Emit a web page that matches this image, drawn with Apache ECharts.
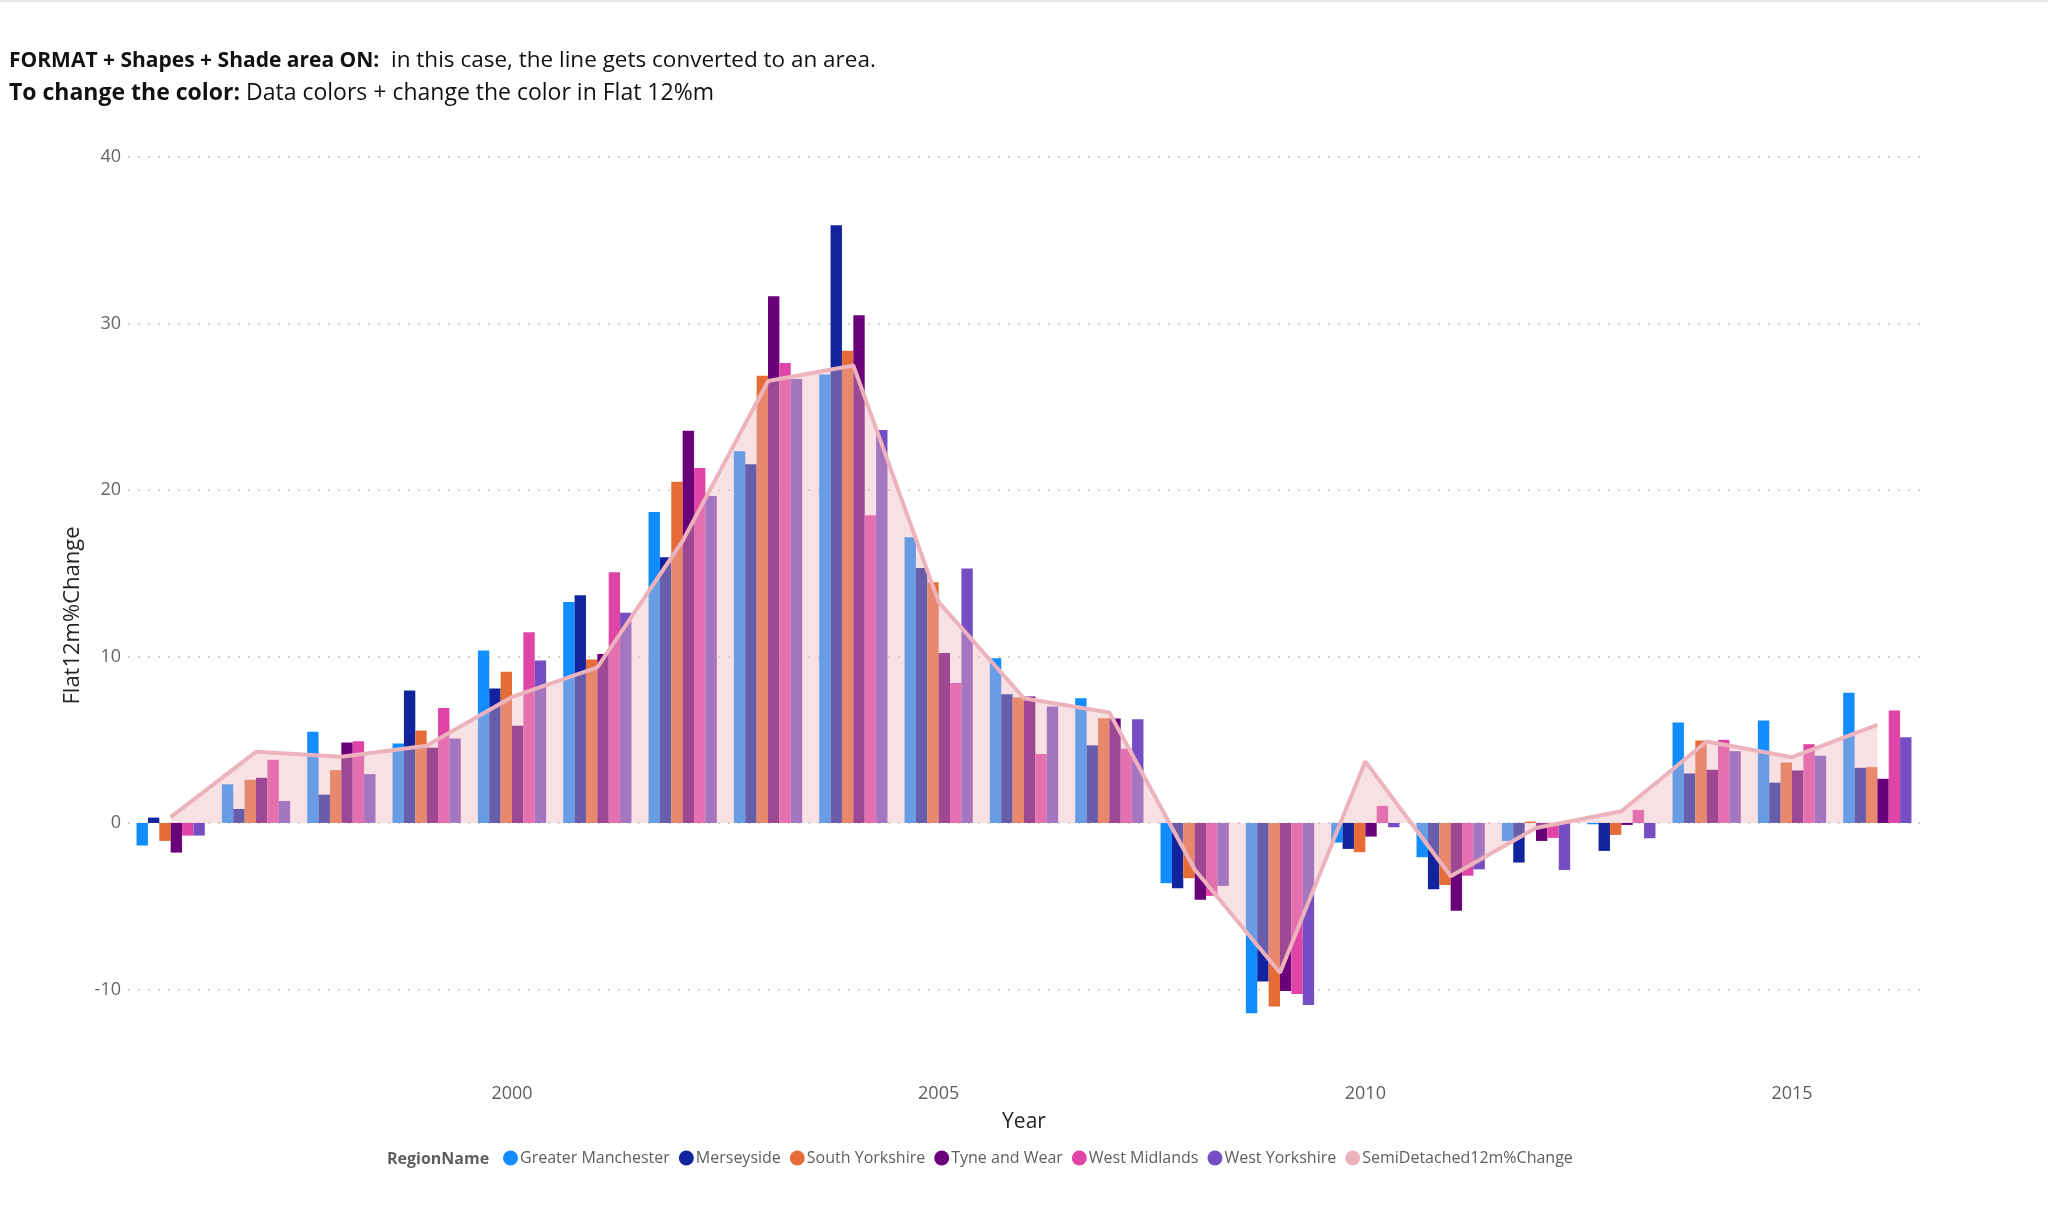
<!DOCTYPE html>
<html>
<head>
<meta charset="utf-8">
<script src="https://cdn.jsdelivr.net/npm/echarts@6/dist/echarts.min.js"></script>
<style>
  html, body { margin: 0; padding: 0; background: #fff; }
  #main { width: 2048px; height: 1215px; }
</style>
</head>
<body>
<div id="main"></div>
<script>
var years = ['1996','1997','1998','1999','2000','2001','2002','2003','2004','2005','2006',
             '2007','2008','2009','2010','2011','2012','2013','2014','2015','2016'];

var greaterManchester = [-1.36, 2.32, 5.47, 4.77, 10.36, 13.27, 18.68, 22.33, 26.94, 17.16, 9.89, 7.49, -3.62, -11.43, -1.18, -2.06, -1.08, -0.08, 6.03, 6.15, 7.82];
var merseyside = [0.32, 0.84, 1.70, 7.96, 8.08, 13.67, 15.96, 21.54, 35.9, 15.32, 7.73, 4.66, -3.92, -9.53, -1.56, -3.99, -2.38, -1.68, 2.97, 2.42, 3.31];
var southYorkshire = [-1.08, 2.59, 3.17, 5.55, 9.08, 9.82, 20.49, 26.86, 28.36, 14.46, 7.53, 6.29, -3.32, -11.03, -1.76, -3.73, 0.08, -0.72, 4.95, 3.63, 3.35];
var tyneAndWear = [-1.78, 2.71, 4.83, 4.51, 5.83, 10.14, 23.55, 31.64, 30.49, 10.2, 7.6, 6.27, -4.62, -10.09, -0.82, -5.27, -1.08, -0.12, 3.19, 3.15, 2.65];
var westMidlands = [-0.76, 3.79, 4.91, 6.91, 11.46, 15.05, 21.32, 27.62, 18.48, 8.41, 4.14, 4.46, -4.38, -10.27, 1.02, -3.17, -0.9, 0.78, 4.99, 4.73, 6.75];
var westYorkshire = [-0.76, 1.32, 2.93, 5.07, 9.76, 12.63, 19.63, 26.67, 23.6, 15.29, 6.99, 6.23, -3.78, -10.93, -0.26, -2.79, -2.83, -0.92, 4.31, 4.03, 5.15];
var semiDetached = [0.35, 4.27, 3.97, 4.63, 7.57, 9.34, 16.94, 26.54, 27.48, 13.26, 7.49, 6.63, -2.8, -9.0, 3.7, -3.2, -0.3, 0.7, 4.89, 3.95, 5.89];

var font = "'Open Sans', 'Noto Sans', sans-serif";

function barSeries(name, color, data) {
    return {
        name: name,
        type: 'bar',
        data: data,
        barGap: 0,
        barCategoryGap: '20%',
        itemStyle: { color: color }
    };
}

var myChart = echarts.init(document.getElementById('main'));

var option = {
    backgroundColor: '#ffffff',
    textStyle: { fontFamily: font },
    graphic: [
        { type: 'rect', left: 0, top: 0, shape: { width: 2048, height: 2 }, style: { fill: '#e6e6e6' } }
    ],
    title: [
        {
            left: 9,
            top: 45,
            padding: 0,
            text: '{b1|FORMAT + Shapes + Shade area ON:}{n1|  in this case, the line gets converted to an area.}\n{b2|To change the color:}{n2| Data colors + change the color in Flat 12%m}',
            textStyle: {
                fontFamily: font,
                fontSize: 22,
                fontWeight: 'normal',
                color: '#111111',
                lineHeight: 32,
                rich: {
                    b1: { fontFamily: font, fontSize: 21, fontWeight: 'bold', color: '#111111', lineHeight: 32 },
                    n1: { fontFamily: font, fontSize: 22.5, fontWeight: 'normal', color: '#111111', lineHeight: 32 },
                    b2: { fontFamily: font, fontSize: 23, fontWeight: 'bold', color: '#111111', lineHeight: 32 },
                    n2: { fontFamily: font, fontSize: 23, fontWeight: 'normal', color: '#111111', lineHeight: 32 }
                }
            }
        },
        {
            left: 387,
            top: 1149,
            padding: 0,
            text: 'RegionName',
            textStyle: { fontFamily: font, fontSize: 16, fontWeight: 'bold', color: '#605E5C', lineHeight: 20 }
        }
    ],
    legend: {
        left: 503,
        top: 1150,
        padding: 0,
        icon: 'circle',
        itemWidth: 15,
        itemHeight: 15,
        itemGap: 9,
        textStyle: { fontFamily: font, fontSize: 16, color: '#605E5C', padding: [0, 0, 0, -3] },
        data: ['Greater Manchester', 'Merseyside', 'South Yorkshire', 'Tyne and Wear',
               'West Midlands', 'West Yorkshire', 'SemiDetached12m%Change']
    },
    grid: {
        left: 128,
        right: 128,
        top: 157,
        bottom: 159,
        containLabel: false
    },
    xAxis: {
        type: 'category',
        data: years,
        name: 'Year',
        nameLocation: 'middle',
        nameGap: 56,
        nameTextStyle: { fontFamily: font, fontSize: 21, color: '#252423' },
        axisLine: { show: false },
        axisTick: { show: false },
        axisLabel: {
            interval: function (index, value) { return Number(value) % 5 === 0; },
            margin: 29,
            fontSize: 18,
            color: '#605E5C'
        },
        splitLine: { show: false }
    },
    yAxis: {
        type: 'value',
        min: -14,
        max: 40,
        name: 'Flat12m%Change',
        nameLocation: 'middle',
        nameGap: 44,
        nameTextStyle: { fontFamily: font, fontSize: 22, color: '#252423', padding: [0, 18, 0, 0] },
        axisLine: { show: false },
        axisTick: { show: false },
        axisLabel: {
            showMinLabel: false,
            margin: 7,
            fontSize: 18,
            color: '#666666',
            formatter: function (v) { return v % 10 === 0 ? String(v) : ''; }
        },
        splitLine: {
            show: true,
            showMinLine: false,
            lineStyle: { color: '#C8C6C4', width: 1.5, type: [2, 8] }
        }
    },
    series: [
        barSeries('Greater Manchester', '#118DFF', greaterManchester),
        barSeries('Merseyside', '#12239E', merseyside),
        barSeries('South Yorkshire', '#E66C37', southYorkshire),
        barSeries('Tyne and Wear', '#6B007B', tyneAndWear),
        barSeries('West Midlands', '#E044A7', westMidlands),
        barSeries('West Yorkshire', '#744EC2', westYorkshire),
        {
            name: 'SemiDetached12m%Change',
            type: 'line',
            data: semiDetached,
            symbol: 'none',
            itemStyle: { color: '#ECB3BC' },
            lineStyle: { color: '#ECB3BC', width: 4 },
            areaStyle: { color: '#ECB3BC', opacity: 0.4 },
            z: 3
        }
    ]
};

myChart.setOption(option);
</script>
</body>
</html>
